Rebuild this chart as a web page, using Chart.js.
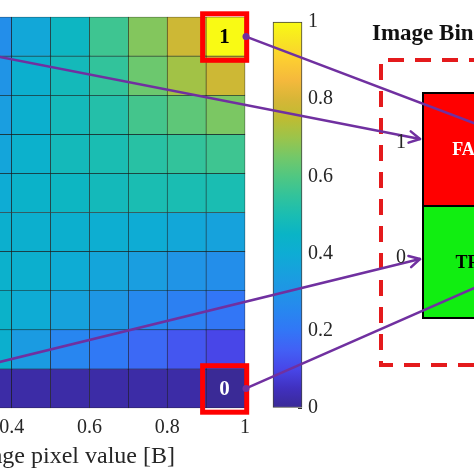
<!DOCTYPE html>
<html>
<head>
<meta charset="utf-8">
<script src="https://cdn.jsdelivr.net/npm/chart.js@4.4.1/dist/chart.umd.min.js"></script>
<style>
html, body { margin: 0; padding: 0; background: #fff; overflow: hidden; }
#wrap { position: relative; width: 474px; height: 474px; overflow: hidden; }
#heat { position: absolute; left: -105px; top: 0; }
#cbar { position: absolute; left: 268px; top: 0; }
#over { position: absolute; left: 0; top: 0; }
</style>
</head>
<body>
<div id="wrap">
	<canvas id="heat" width="363" height="474"></canvas>
	<canvas id="cbar" width="74" height="474"></canvas>
	<canvas id="over" width="474" height="474"></canvas>
</div>
<script>
'use strict';

// cell grid (x = column centres, y = row edges)
const xCenters = [0.15, 0.25, 0.35, 0.45, 0.55, 0.65, 0.75, 0.85, 0.95];
const yEdges = [0, 0.1, 0.2, 0.3, 0.4, 0.5, 0.6, 0.7, 0.8, 0.9, 1];
const xTicks = [0.2, 0.4, 0.6, 0.8, 1];
const cbarTicks = [0, 0.2, 0.4, 0.6, 0.8, 1];
const cbarRange = [0, 1];

// cell values, top row first
const rowValues = [
	[0.18, 0.22, 0.28, 0.38, 0.46, 0.57, 0.67, 0.78, 1.00],
	[0.22, 0.26, 0.30, 0.42, 0.48, 0.55, 0.64, 0.71, 0.78],
	[0.26, 0.30, 0.34, 0.42, 0.48, 0.52, 0.58, 0.62, 0.66],
	[0.30, 0.34, 0.37, 0.43, 0.48, 0.50, 0.53, 0.55, 0.57],
	[0.34, 0.37, 0.40, 0.44, 0.46, 0.48, 0.50, 0.50, 0.50],
	[0.38, 0.40, 0.42, 0.42, 0.42, 0.41, 0.40, 0.38, 0.36],
	[0.42, 0.43, 0.43, 0.42, 0.40, 0.37, 0.34, 0.30, 0.28],
	[0.46, 0.45, 0.44, 0.40, 0.36, 0.31, 0.26, 0.23, 0.20],
	[0.50, 0.46, 0.42, 0.33, 0.25, 0.21, 0.17, 0.13, 0.10],
	[0.02, 0.02, 0.02, 0.02, 0.02, 0.02, 0.02, 0.02, 0.00]
];

// parula-like colormap
const parulaStops = [
	[0.00, 58, 42, 150], [0.05, 64, 48, 190], [0.10, 72, 70, 232],
	[0.15, 66, 96, 245], [0.20, 50, 118, 246], [0.25, 40, 134, 240],
	[0.30, 32, 148, 230], [0.35, 24, 160, 222], [0.40, 14, 172, 212],
	[0.45, 10, 180, 198], [0.50, 26, 189, 178], [0.55, 50, 195, 155],
	[0.60, 80, 199, 130], [0.65, 115, 200, 105], [0.70, 155, 196, 75],
	[0.75, 190, 188, 50], [0.80, 215, 182, 55], [0.85, 245, 185, 60],
	[0.90, 252, 205, 50], [0.95, 248, 228, 35], [1.00, 249, 250, 20]
];

const serif = "'Liberation Serif', 'Times New Roman', serif";
const purple = '#7030a0';

function parula(v) {
	let i = 0;
	while (i < parulaStops.length - 2 && v > parulaStops[i + 1][0]) i++;
	const a = parulaStops[i], b = parulaStops[i + 1];
	const t = Math.max(0, Math.min(1, (v - a[0]) / (b[0] - a[0])));
	const c = [1, 2, 3].map(k => Math.round(a[k] + (b[k] - a[k]) * t));
	return 'rgb(' + c.join(',') + ')';
}

const datasets = rowValues.map((vals, r) => {
	const hi = yEdges[yEdges.length - 1 - r];
	const lo = yEdges[yEdges.length - 2 - r];
	return {
		data: xCenters.map(x => ({x: x, y: [lo, hi]})),
		backgroundColor: vals.map(parula),
		borderColor: '#1c1c1c',
		borderWidth: 0.6,
		borderSkipped: false,
		barPercentage: 1,
		categoryPercentage: 1,
		grouped: false,
		clip: false
	};
});

const heat = new Chart(document.getElementById('heat'), {
	type: 'bar',
	data: {datasets: datasets},
	options: {
		responsive: false,
		animation: false,
		layout: {padding: {left: 0, right: 10, top: 17, bottom: 0}},
		plugins: {legend: {display: false}, tooltip: {enabled: false}},
		scales: {
			x: {
				type: 'linear',
				offset: false,
				min: 0.1,
				max: 1,
				afterBuildTicks: (s) => { s.ticks = xTicks.map(v => ({value: v})); },
				afterFit: (s) => { s.height = 66; },
				grid: {display: false, drawTicks: false, offset: false},
				border: {display: false},
				ticks: {
					autoSkip: false, maxRotation: 0, padding: 8, color: '#262626',
					font: {family: serif, size: 20},
					callback: v => String(v)
				},
				title: {
					display: true, text: 'Image pixel value [B]', color: '#262626',
					font: {family: serif, size: 24}, padding: {top: 0, bottom: 3}
				}
			},
			y: {type: 'linear', min: 0, max: 1, display: false}
		}
	}
});

new Chart(document.getElementById('cbar'), {
	type: 'bar',
	data: {
		labels: [''],
		datasets: [{
			data: [cbarRange],
			backgroundColor: (ctx) => {
				const area = ctx.chart.chartArea;
				if (!area) return '#888';
				const g = ctx.chart.ctx.createLinearGradient(0, area.bottom, 0, area.top);
				parulaStops.forEach(s => g.addColorStop(s[0], 'rgb(' + s[1] + ',' + s[2] + ',' + s[3] + ')'));
				return g;
			},
			borderColor: '#404040',
			borderWidth: 1,
			borderSkipped: false,
			barPercentage: 1,
			categoryPercentage: 1,
			clip: false
		}]
	},
	options: {
		responsive: false,
		animation: false,
		layout: {padding: {left: 5, top: 17, bottom: 66, right: 0}},
		plugins: {legend: {display: false}, tooltip: {enabled: false}},
		scales: {
			x: {display: false},
			y: {
				position: 'right', min: 0, max: 1, z: 1,
				afterBuildTicks: (s) => { s.ticks = cbarTicks.map(v => ({value: v})); },
				afterFit: (s) => { s.width = 40; },
				grid: {drawOnChartArea: false, drawTicks: true, tickLength: -4, color: '#303030'},
				border: {display: false},
				ticks: {
					padding: 10, color: '#262626', font: {family: serif, size: 20},
					callback: v => String(v)
				}
			}
		}
	}
});

// annotation layer: highlights, binarisation diagram, arrows
const heatLeft = -105;
const ctx = document.getElementById('over').getContext('2d');
const xs = heat.scales.x, ys = heat.scales.y;

function cellRect(x0, x1, y0, y1) {
	const l = xs.getPixelForValue(x0) + heatLeft;
	const r = xs.getPixelForValue(x1) + heatLeft;
	const t = ys.getPixelForValue(y1);
	const b = ys.getPixelForValue(y0);
	return {l: l, r: r, t: t, b: b, cx: (l + r) / 2, cy: (t + b) / 2};
}

const topCell = cellRect(0.9, 1, 0.9, 1);
const botCell = cellRect(0.9, 1, 0, 0.1);

// title
ctx.fillStyle = '#111';
ctx.font = 'bold 23px ' + serif;
ctx.textAlign = 'left';
ctx.textBaseline = 'alphabetic';
ctx.fillText('Image Binarization', 372, 40);

// dashed frame
ctx.save();
ctx.strokeStyle = '#e41a1c';
ctx.lineWidth = 4;
ctx.setLineDash([16, 11]);
ctx.beginPath();
ctx.moveTo(620, 60);
ctx.lineTo(381, 60);
ctx.lineTo(381, 365);
ctx.lineTo(620, 365);
ctx.stroke();
ctx.restore();

// FALSE / TRUE boxes
ctx.lineWidth = 2;
ctx.strokeStyle = '#000';
ctx.fillStyle = '#ff0000';
ctx.fillRect(423, 93, 115, 113);
ctx.strokeRect(423, 93, 115, 113);
ctx.fillStyle = '#11ee11';
ctx.fillRect(423, 206, 115, 112);
ctx.strokeRect(423, 206, 115, 112);
ctx.font = 'bold 18px ' + serif;
ctx.textAlign = 'center';
ctx.textBaseline = 'middle';
ctx.fillStyle = '#fff';
ctx.fillText('FALSE', 480.5, 150);
ctx.fillStyle = '#000';
ctx.fillText('TRUE', 480.5, 263);

// highlighted cells
ctx.strokeStyle = '#ff0000';
ctx.lineWidth = 5;
[topCell, botCell].forEach(c => {
	ctx.strokeRect(c.l - 3.5, c.t - 3.2, (c.r - c.l) + 5.2, (c.b - c.t) + 7.4);
});
ctx.font = 'bold 21px ' + serif;
ctx.fillStyle = '#000';
ctx.fillText('1', topCell.cx - 1, topCell.cy + 1);
ctx.fillStyle = '#fff';
ctx.fillText('0', botCell.cx - 1, botCell.cy + 1);

// arrows
function line(x0, y0, x1, y1) {
	ctx.beginPath();
	ctx.moveTo(x0, y0);
	ctx.lineTo(x1, y1);
	ctx.stroke();
}
function head(x0, y0, x1, y1) {
	const a = Math.atan2(y1 - y0, x1 - x0);
	const len = 12, spread = 0.5;
	ctx.beginPath();
	ctx.moveTo(x1 - len * Math.cos(a - spread), y1 - len * Math.sin(a - spread));
	ctx.lineTo(x1, y1);
	ctx.lineTo(x1 - len * Math.cos(a + spread), y1 - len * Math.sin(a + spread));
	ctx.stroke();
}
ctx.strokeStyle = purple;
ctx.lineWidth = 2.5;
ctx.lineCap = 'round';
ctx.lineJoin = 'round';
const d1 = {x: topCell.r + 1, y: topCell.cy};
const d0 = {x: botCell.r + 1, y: botCell.cy};
line(d1.x, d1.y, 520, d1.y + (520 - d1.x) * 0.38);
line(-60, 45.4, 420, 139);
head(-60, 45.4, 420, 139);
line(-60, 376.6, 420, 259);
head(-60, 376.6, 420, 259);
line(d0.x, d0.y, 520, d0.y - (520 - d0.x) * 0.44);

ctx.fillStyle = purple;
[d1, d0].forEach(d => {
	ctx.beginPath();
	ctx.arc(d.x, d.y, 3.5, 0, Math.PI * 2);
	ctx.fill();
});

// binary level labels
ctx.font = '20px ' + serif;
ctx.fillStyle = '#262626';
ctx.textAlign = 'center';
ctx.textBaseline = 'middle';
ctx.fillText('1', 401, 143);
ctx.fillText('0', 401, 258);
</script>
</body>
</html>
